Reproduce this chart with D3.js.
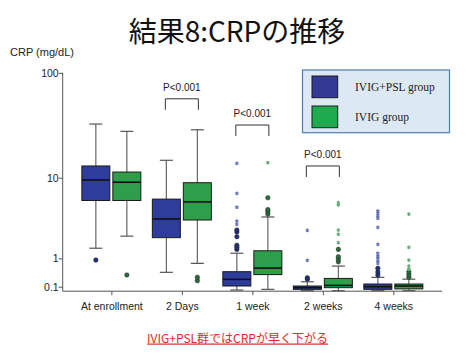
<!DOCTYPE html>
<html><head><meta charset="utf-8">
<script src="https://cdn.jsdelivr.net/npm/d3@7"></script>
<style>
html,body{margin:0;padding:0;background:#fff;}
svg{display:block;}
</style></head>
<body>
<svg id="chart" width="474" height="355"></svg>
<script>
const categories = ["At enrollment", "2 Days", "1 week", "2 weeks", "4 weeks"];
const groups = ["IVIG+PSL group", "IVIG group"];
// [whisker low, Q1, median, Q3, whisker high]
const psl = [
  [1.48, 5.8, 9.5, 13.1, 33.2],
  [0.49, 2.1, 3.6, 6.0, 14.9],
  [0.025, 0.116, 0.285, 0.51, 1.23],
  [0.01, 0.04, 0.077, 0.116, 0.22],
  [0.01, 0.04, 0.1, 0.164, 0.34]
];
const ivig = [
  [2.2, 5.8, 9.0, 11.4, 28.3],
  [0.8, 3.5, 5.6, 8.9, 29.3],
  [0.04, 0.42, 0.63, 1.35, 3.8],
  [0.01, 0.077, 0.13, 0.31, 0.70],
  [0.01, 0.05, 0.116, 0.164, 0.29]
];
const pslOutliers = [[0.93], [], [1.42,1.53,1.64,2.16,2.5,2.64], [0.29,0.33], [0.41,0.5,0.62]];
const pslExtremes = [[], [], [3.1,3.4,4.9,6.9,13.9], [0.92,2.62], [0.8,0.9,1.02,1.1,1.23,1.69,2.85,3.67,3.93,4.19,4.44]];
const ivigOutliers = [[0.41], [0.25,0.34], [4.1,4.4,4.6,6.2], [0.86,0.97,1.07,1.42], [0.34,0.42,0.51]];
const ivigExtremes = [[], [], [14.1], [1.79,2.33,2.64,5.2,5.5], [0.59,0.70,0.93,1.53,4.1]];
const yTicks = [0.1, 1, 10, 100];
const pCategories = ["2 Days", "1 week", "2 weeks"];
const pLabels = ["P<0.001", "P<0.001", "P<0.001"];
const pLevels = [57.3, 32.5, 13.1];

const svg = d3.select("#chart");
const axisLeft = 62.7, axisRight = 442, axisTop = 72.8, axisBottom = 291.2;

const x = d3.scalePoint().domain(categories).range([axisLeft, axisRight]).padding(0.69);
const y = d3.scaleSymlog().constant(1).domain([0, 100]).range([axisBottom, axisTop]);
const off = d3.scaleOrdinal().domain(groups).range([-15.5, 15.5]);
const fill = d3.scaleOrdinal().domain(groups).range(["#2e3d9b", "#2f9e4b"]);
const outFill = d3.scaleOrdinal().domain(groups).range(["#23306f", "#2b6b3e"]);
const extFill = d3.scaleOrdinal().domain(groups).range(["#6672b8", "#66aa7a"]);
const boxW = 28, capW = 13;

// Title
svg.append("text").attr("x", 237).attr("y", 42).attr("text-anchor", "middle")
  .attr("font-family", "'Noto Sans CJK JP', sans-serif").attr("font-size", 28)
  .attr("fill", "#111").text("結果8:CRPの推移");

svg.append("text").attr("x", 10).attr("y", 56)
  .attr("font-family", "'Liberation Sans', Arial, sans-serif").attr("font-size", 11)
  .attr("fill", "#222").text("CRP (mg/dL)");

// Axes
const yAxis = d3.axisLeft(y).tickValues(yTicks).tickFormat(d => String(d)).tickSize(4).tickSizeOuter(0);
const gy = svg.append("g").attr("transform", `translate(${axisLeft},0)`).call(yAxis);
gy.select(".domain").attr("stroke", "#555").attr("d", `M0,${axisTop}V${axisBottom}`);
gy.selectAll(".tick line").attr("stroke", "#555");
gy.selectAll(".tick text").attr("font-family", "'Liberation Sans', Arial, sans-serif")
  .attr("font-size", 10.5).attr("fill", "#222").attr("x", -4);

const xAxis = d3.axisBottom(x).tickSize(4).tickSizeOuter(0);
const gx = svg.append("g").attr("transform", `translate(0,${axisBottom})`).call(xAxis);
gx.select(".domain").attr("stroke", "#555").attr("d", `M${axisLeft},0H${axisRight}`);
gx.selectAll(".tick line").attr("stroke", "#555");
gx.selectAll(".tick text").attr("font-family", "'Liberation Sans', Arial, sans-serif")
  .attr("font-size", 10.5).attr("fill", "#222").attr("dy", "1.1em");

// Boxes
const series = [
  {g: groups[0], stats: psl, outs: pslOutliers, exts: pslExtremes},
  {g: groups[1], stats: ivig, outs: ivigOutliers, exts: ivigExtremes}
];
series.forEach(s => {
  s.stats.forEach((st, i) => {
    const cx = x(categories[i]) + off(s.g);
    const g = svg.append("g");
    g.append("line").attr("x1", cx).attr("x2", cx).attr("y1", y(st[0])).attr("y2", y(st[1]))
      .attr("stroke", "#666").attr("stroke-width", 1.2);
    g.append("line").attr("x1", cx).attr("x2", cx).attr("y1", y(st[3])).attr("y2", y(st[4]))
      .attr("stroke", "#666").attr("stroke-width", 1.2);
    [st[0], st[4]].forEach(v => {
      g.append("line").attr("x1", cx - capW/2).attr("x2", cx + capW/2).attr("y1", y(v)).attr("y2", y(v))
        .attr("stroke", "#555").attr("stroke-width", 1.2);
    });
    g.append("rect").attr("x", cx - boxW/2).attr("y", y(st[3])).attr("width", boxW)
      .attr("height", Math.max(1, y(st[1]) - y(st[3])))
      .attr("fill", fill(s.g)).attr("stroke", "#1a1a1a").attr("stroke-width", 1);
    g.append("line").attr("x1", cx - boxW/2).attr("x2", cx + boxW/2).attr("y1", y(st[2])).attr("y2", y(st[2]))
      .attr("stroke", "#111").attr("stroke-width", 1.6);
    s.outs[i].forEach(v => {
      g.append("circle").attr("cx", cx).attr("cy", y(v)).attr("r", 2.3)
        .attr("fill", outFill(s.g)).attr("stroke", "#222").attr("stroke-width", 0.4);
    });
    s.exts[i].forEach(v => {
      g.append("path").attr("transform", `translate(${cx},${y(v)})`)
        .attr("d", d3.symbol(d3.symbolAsterisk, 9)())
        .attr("stroke", extFill(s.g)).attr("stroke-width", 1.2).attr("fill", "none");
    });
  });
});

// P-value brackets
pCategories.forEach((c, i) => {
  const x1 = x(c) + off(groups[0]) - 1, x2 = x(c) + off(groups[1]) + 1;
  const yt = y(pLevels[i]);
  svg.append("path").attr("d", `M${x1},${yt + 11}V${yt}H${x2}V${yt + 11}`)
    .attr("fill", "none").attr("stroke", "#333").attr("stroke-width", 1);
  svg.append("text").attr("x", (x1 + x2) / 2).attr("y", yt - 8).attr("text-anchor", "middle")
    .attr("font-family", "'Liberation Sans', Arial, sans-serif").attr("font-size", 10)
    .attr("fill", "#222").text(pLabels[i]);
});

// Legend
const lg = svg.append("g");
lg.append("rect").attr("x", 302.5).attr("y", 70).attr("width", 147).attr("height", 62.7)
  .attr("fill", "#dce9f4").attr("stroke", "#4d7fae").attr("stroke-width", 1.2);
groups.forEach((gname, i) => {
  const yy = 76 + i * 30;
  lg.append("rect").attr("x", 312).attr("y", yy).attr("width", 25.7).attr("height", 21.7)
    .attr("fill", i === 0 ? "#323a95" : "#1eaa4e").attr("stroke", "#1a1a1a").attr("stroke-width", 1);
  lg.append("text").attr("x", 355).attr("y", yy + 14.5)
    .attr("font-family", "'Liberation Serif', serif").attr("font-size", 11.5)
    .attr("fill", "#222").text(gname);
});

// Bottom note
svg.append("text").attr("x", 237.5).attr("y", 342.5).attr("text-anchor", "middle")
  .attr("font-family", "'Noto Sans CJK JP', sans-serif").attr("font-size", 12)
  .attr("fill", "#e0282a").attr("text-decoration", "underline")
  .text("IVIG+PSL群ではCRPが早く下がる");
</script>
</body></html>
